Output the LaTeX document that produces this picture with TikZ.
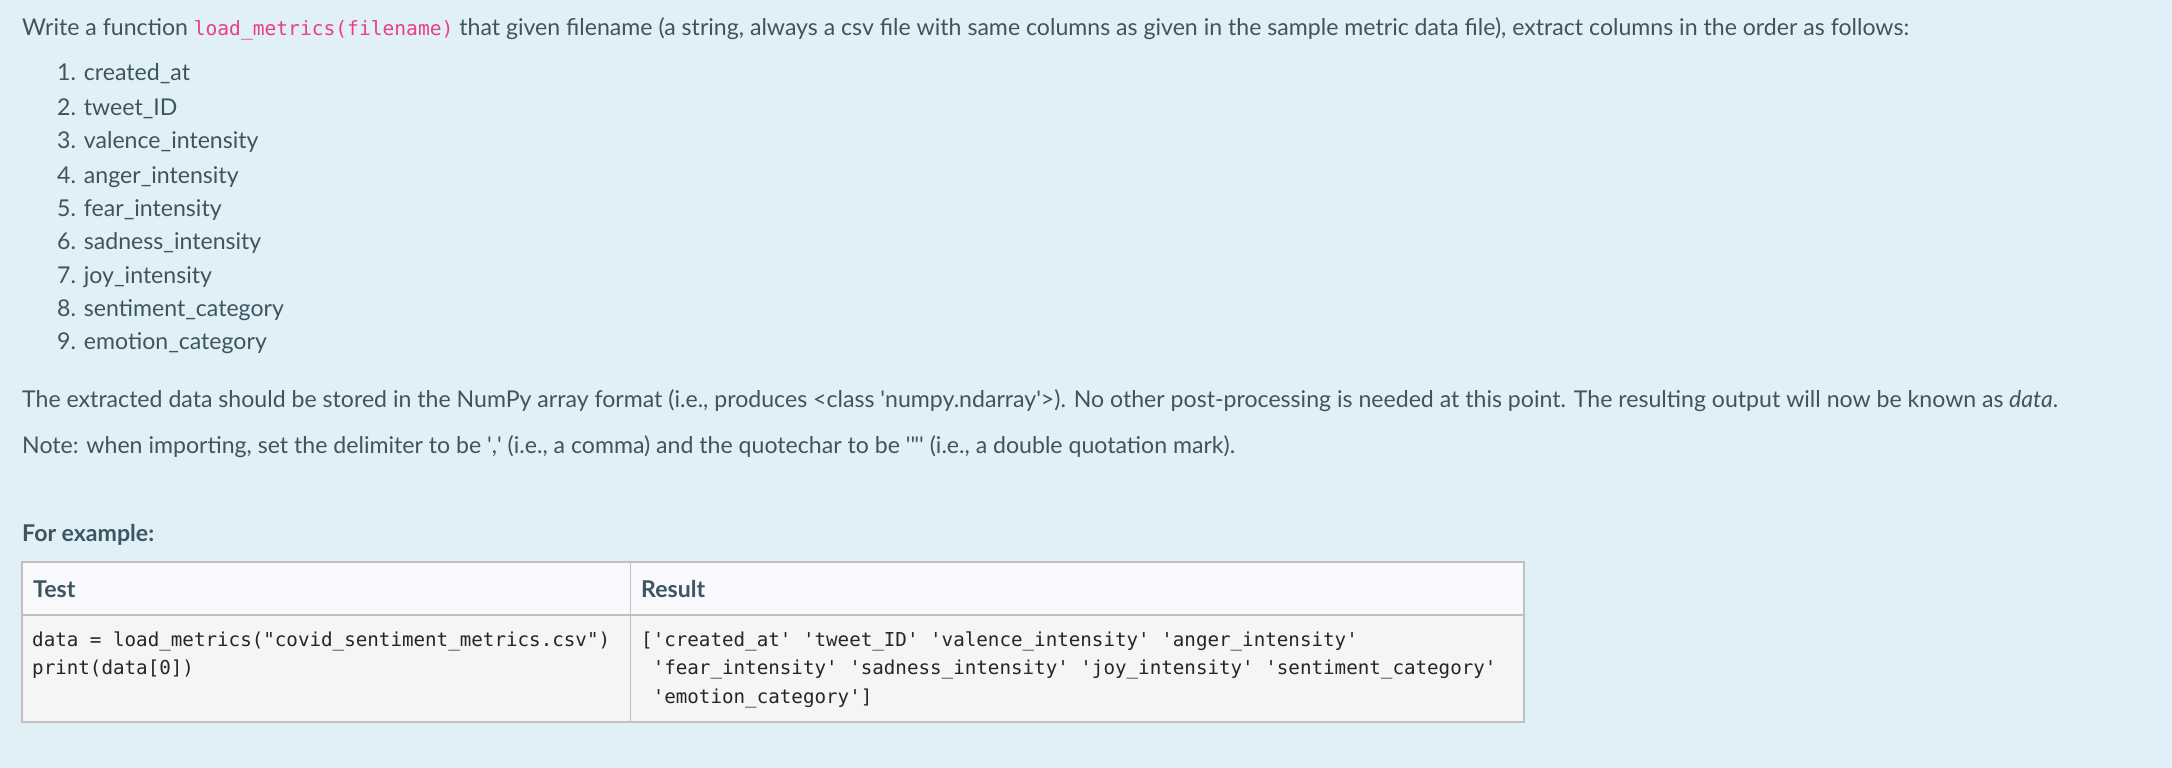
\documentclass[tikz,border=0pt]{standalone}
\usepackage{fontspec}
\setmainfont{Lato}
\setmonofont{DejaVu Sans Mono}
\definecolor{bg}{HTML}{E1F0F7}
\definecolor{txt}{HTML}{3D5560}
\definecolor{pink}{HTML}{E83E8C}
\definecolor{hdr}{HTML}{F8F8FD}
\definecolor{body}{HTML}{F5F5F5}
\definecolor{brd}{HTML}{C0C0C0}
\begin{document}
\begin{tikzpicture}[x=1pt,y=-1pt,
  t/.style={anchor=base west,inner sep=0,text=txt,font=\fontsize{23.1}{28}\selectfont},
  m/.style={anchor=base west,inner sep=0,text=black!85,font=\fontsize{19.2}{24}\ttfamily}]
\fill[bg] (0,0) rectangle (2172,768);
\useasboundingbox (0,0) rectangle (2172,768);
\node[t] (l0) at (22,36) {Write a function {\color{pink}\ttfamily\fontsize{19.6}{24}\selectfont load\_metrics(filename)} that given filename (a string, always a csv file with same columns as given in the sample metric data file), extract columns in the order as follows:};
\foreach \n/\s/\y in {1/created\_at/81,2/tweet\_ID/115,3/valence\_intensity/148,4/anger\_intensity/183,5/fear\_intensity/216,6/sadness\_intensity/249,7/joy\_intensity/283,8/sentiment\_category/316,9/emotion\_category/349}
  \node[t] (i\n) at (57,\y) {\n. \s};
\node[t] (p1) at (22,407) {The extracted data should be stored in the NumPy array format (i.e., produces <class \textquotesingle numpy.ndarray\textquotesingle>). No other post-processing is needed at this point. The resulting output will now be known as \textit{data}.};
\node[t] (p2) at (22,453) {Note: when importing, set the delimiter to be \textquotesingle,\textquotesingle{} (i.e., a comma) and the quotechar to be \textquotesingle\textquotedbl\textquotesingle{} (i.e., a double quotation mark).};
\node[t,font=\fontsize{23.1}{28}\selectfont\bfseries] (fe) at (22,541) {For example:};
\fill[hdr] (22,562) rectangle (1524,615);
\fill[body] (22,615) rectangle (1524,722);
\draw[brd,line width=1.5] (22,562) rectangle (1524,722);
\draw[brd,line width=2] (22,615) -- (1524,615);
\draw[brd,line width=1] (630,562) -- (630,722);
\node[t,font=\fontsize{23.1}{28}\selectfont\bfseries] (th1) at (33,597) {Test};
\node[t,font=\fontsize{23.1}{28}\selectfont\bfseries] (th2) at (641,597) {Result};
\node[m] (c1) at (32,646) {data = load\_metrics("covid\_sentiment\_metrics.csv")};
\node[m] (c2) at (32,674) {print(data[0])};
\node[m] (r1) at (641,646) {['created\_at' 'tweet\_ID' 'valence\_intensity' 'anger\_intensity'};
\node[m] (r2) at (641,674) {\ 'fear\_intensity' 'sadness\_intensity' 'joy\_intensity' 'sentiment\_category'};
\node[m] (r3) at (641,703) {\ 'emotion\_category']};
\end{tikzpicture}
\end{document}
